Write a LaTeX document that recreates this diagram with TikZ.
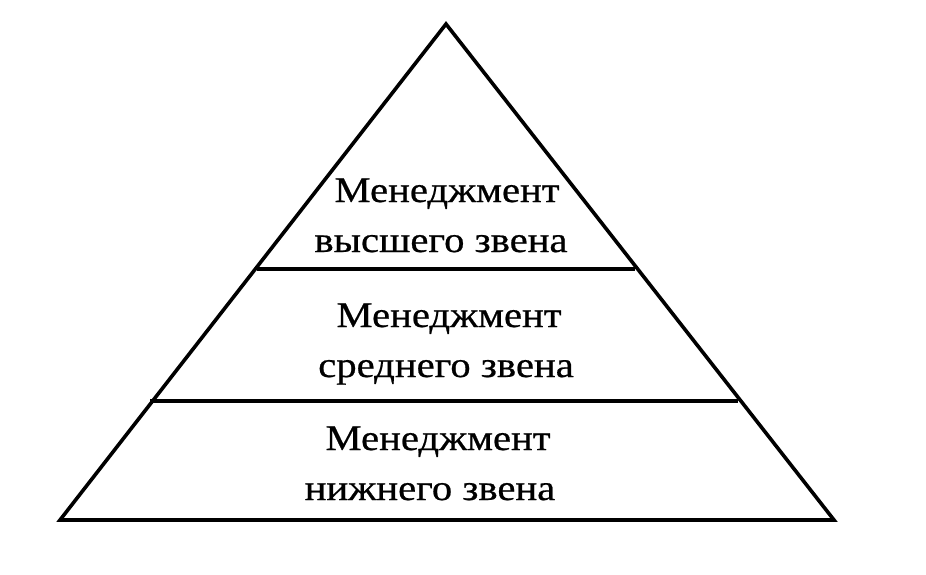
\documentclass[tikz,border=0pt]{standalone}
\usepackage{fontspec}
\setmainfont{Liberation Serif}[FakeStretch=1.13,FakeBold=0.6]
\tikzset{
  pyr/.style={line width=3.6pt, line join=miter, black},
  lbl/.style={anchor=base, inner sep=0pt, font=\fontsize{36}{36}\selectfont}
}
\begin{document}
\begin{tikzpicture}[x=1pt,y=-1pt]
\useasboundingbox[fill=white] (0,0) rectangle (926,574);
\coordinate (apex) at (446,24);
\coordinate (bl) at (60,520);
\coordinate (br) at (834,520);
\coordinate (l1a) at (257,269);
\coordinate (l1b) at (635,269);
\coordinate (l2a) at (150,401);
\coordinate (l2b) at (738,401);
\draw[pyr] (apex) -- (bl) -- (br) -- cycle;
\draw[pyr] (l1a) -- (l1b);
\draw[pyr] (l2a) -- (l2b);
\node[lbl] (t1a) at (447,202) {Менеджмент};
\node[lbl] (t1b) at (441,252) {высшего звена};
\node[lbl] (t2a) at (449,327) {Менеджмент};
\node[lbl] (t2b) at (446,377) {среднего звена};
\node[lbl] (t3a) at (438,450) {Менеджмент};
\node[lbl] (t3b) at (430,500) {нижнего звена};
\end{tikzpicture}
\end{document}
